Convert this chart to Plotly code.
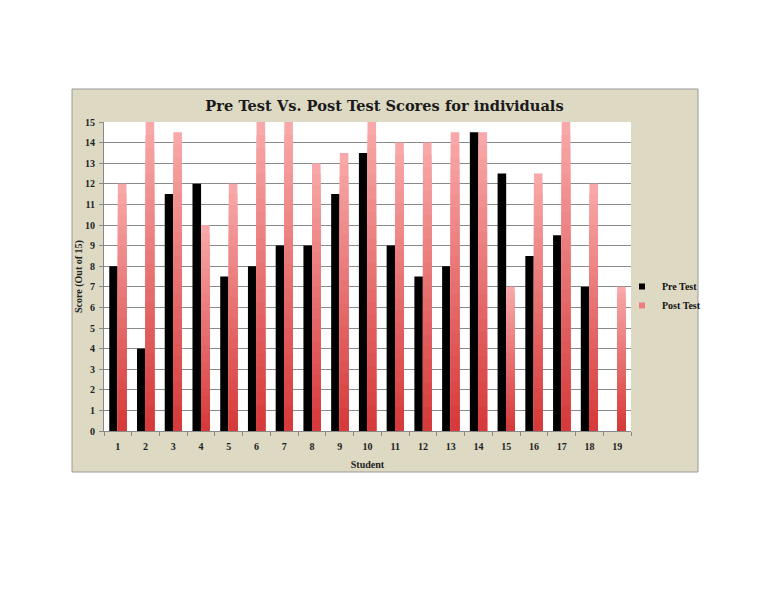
import plotly.graph_objects as go

students = [str(i) for i in range(1, 20)]
pre_test = [8, 4, 11.5, 12, 7.5, 8, 9, 9, 11.5, 13.5, 9, 7.5, 8, 14.5, 12.5, 8.5, 9.5, 7, None]
post_test = [12, 15, 14.5, 10, 12, 15, 15, 13, 13.5, 15, 14, 14, 14.5, 14.5, 7, 12.5, 15, 12, 7]

W, H = 768, 594
L, R, T, B = 104, 631, 122, 431  # plot area in px
pw, ph = R - L, B - T

serif = "Liberation Serif"
BAR_W = 0.31

fig = go.Figure()

fig.add_trace(go.Bar(
    x=students, y=pre_test, name="Pre Test", showlegend=False,
    marker=dict(color="#000000", line=dict(width=0)),
    offset=-BAR_W, width=BAR_W,
))

# vertical gradient for post-test bars (light pink top -> red bottom)
light = (248, 168, 168)
dark = (214, 58, 58)
N = 24
for k in range(N):
    f = k / (N - 1)
    c = tuple(round(light[j] + (dark[j] - light[j]) * f) for j in range(3))
    frac = 1 - k / N
    fig.add_trace(go.Bar(
        x=students, y=[v * frac if v is not None else None for v in post_test],
        name="Post Test", showlegend=False,
        marker=dict(color="rgb(%d,%d,%d)" % c, line=dict(width=0)),
        offset=0, width=BAR_W, hoverinfo="skip" if k else None,
    ))

# legend entries with small square swatches
fig.add_trace(go.Scatter(x=[None], y=[None], mode="markers", name="Pre Test",
                         marker=dict(symbol="square", size=6, color="#000000"), legendrank=1))
fig.add_trace(go.Scatter(x=[None], y=[None], mode="markers", name="Post Test",
                         marker=dict(symbol="square", size=6, color="#EE7E7E"), legendrank=2))

def px_x(x):
    return (x - L) / pw

def px_y(y):
    return (B - y) / ph

shapes = [
    dict(type="rect", xref="paper", yref="paper", layer="below",
         x0=px_x(72), x1=px_x(698), y0=px_y(472), y1=px_y(89),
         fillcolor="#DDD9C3", line=dict(color="#9a9a9a", width=1)),
    dict(type="rect", xref="paper", yref="paper", layer="below",
         x0=0, x1=1, y0=0, y1=1, fillcolor="#FFFFFF", line=dict(width=0)),
]

tick_font = dict(family=serif, size=10, weight="bold", color="#222222")

fig.update_layout(
    width=W, height=H,
    margin=dict(l=L, r=W - R, t=T, b=H - B, pad=0),
    paper_bgcolor="#FFFFFF", plot_bgcolor="rgba(0,0,0,0)",
    barmode="overlay",
    shapes=shapes,
    title=dict(text="Pre Test Vs. Post Test Scores for individuals",
               font=dict(family="DejaVu Serif", size=14.6, color="#1a1a1a", weight="bold"),
               x=px_x(384.5), xref="paper", xanchor="center",
               y=1 - 106 / H, yref="container", yanchor="middle"),
    font=dict(family=serif, size=10, color="#222222"),
    legend=dict(x=px_x(622), y=px_y(272), xanchor="left", yanchor="top",
                bgcolor="rgba(0,0,0,0)",
                font=dict(family=serif, size=10, color="#111111", weight="bold"),
                itemwidth=30, tracegroupgap=0),
    xaxis=dict(type="category", tickson="boundaries", ticks="outside", ticklen=4,
               tickcolor="#888888", showline=True, linecolor="#888888", linewidth=1,
               showgrid=False, tickfont=tick_font, ticklabelstandoff=6,
               title=dict(text="Student", standoff=9,
                          font=dict(family=serif, size=10, weight="bold", color="#222222"))),
    yaxis=dict(range=[0, 15], dtick=1, ticks="outside", ticklen=4, tickcolor="#888888",
               showline=True, linecolor="#888888", linewidth=1,
               showgrid=True, gridcolor="#8a8a8a", gridwidth=1, zeroline=False,
               tickfont=tick_font, ticklabelstandoff=2,
               title=dict(text="Score (Out of 15)", standoff=0,
                          font=dict(family=serif, size=10, weight="bold", color="#222222"))),
)

fig.write_html("out.html")
